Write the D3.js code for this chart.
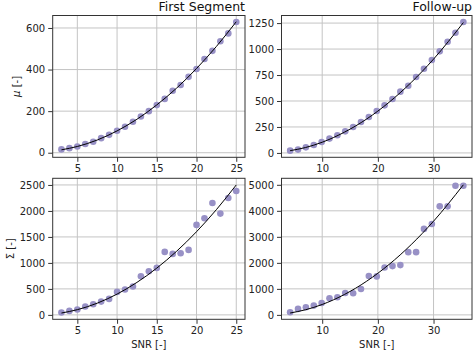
<!DOCTYPE html>
<html>
<head>
<meta charset="utf-8">
<script src="https://cdn.jsdelivr.net/npm/d3@7"></script>
<style>
  body { margin: 0; background: #fff; }
  svg, svg text { font-family: "DejaVu Sans", sans-serif; }
  .grid line { stroke: #c4c4c4; stroke-width: 1; }
  .axis text { font-size: 10px; fill: #222; }
  .axis line, .axis path { stroke: #333; }
</style>
</head>
<body>
<svg id="chart" width="474" height="351"></svg>
<script>
// SNR values (first segment / follow-up)
const snrFirst = [3, 4, 5, 6, 7, 8, 9, 10, 11, 12, 13, 14, 15, 16, 17, 18, 19, 20, 21, 22, 23, 24, 25];
const snrFollow = [4.24, 5.66, 7.07, 8.49, 9.90, 11.31, 12.73, 14.14, 15.56, 16.97, 18.38, 19.80,
  21.21, 22.63, 24.04, 25.46, 26.87, 28.28, 29.70, 31.11, 32.53, 33.94, 35.36];

// measured points
const muFirst = [16, 22, 30, 42, 53, 70, 86, 106, 125, 149, 174, 200, 229, 259, 298, 326, 365, 403, 451, 490, 536, 574, 629];
const muFollow = [22, 32, 54, 77, 106, 138, 170, 208, 250, 298, 346, 404, 458, 519, 590, 647, 731, 811, 894, 978, 1071, 1157, 1260];
const sigmaFirst = [45, 77, 103, 160, 205, 256, 308, 442, 487, 545, 744, 840, 904, 1212, 1173, 1186, 1250, 1731, 1859, 2154, 1949, 2250, 2385];
const sigmaFollow = [102, 230, 293, 357, 459, 638, 676, 842, 829, 995, 1492, 1480, 1824, 1875, 1913, 2411, 2411, 3304, 3495, 4171, 4171, 4962, 4962];

// fitted curves (sampled)
const fitXFirst = [3, 5, 7.5, 10, 12.5, 15, 17.5, 20, 22.5, 25];
const fitMuFirst = [14, 30, 61, 105, 161, 230, 311, 405, 511, 630];
const fitSigmaFirst = [36, 100, 225, 400, 625, 900, 1225, 1600, 2025, 2500];
const fitXFollow = [4.24, 7, 10, 14, 18, 22, 26, 30, 35.36];
const fitMuFollow = [22, 52, 103, 200, 327, 487, 679, 903, 1255];
const fitSigmaFollow = [72, 196, 400, 784, 1296, 1936, 2704, 3600, 5000];

// ticks
const xTicksFirst = [5, 10, 15, 20, 25];
const xTicksFollow = [10, 20, 30];
const yTicksMuFirst = [0, 200, 400, 600];
const yTicksMuFollow = [0, 250, 500, 750, 1000, 1250];
const yTicksSigmaFirst = [0, 500, 1000, 1500, 2000, 2500];
const yTicksSigmaFollow = [0, 1000, 2000, 3000, 4000, 5000];

const pointColor = "#9891c6";
const svg = d3.select("#chart");

function panel(cfg) {
  const { x0, x1, y0, y1 } = cfg.box;
  const sx = d3.scaleLinear().domain(cfg.xDomain).range([x0, x1]);
  const sy = d3.scaleLinear().domain(cfg.yDomain).range([y1, y0]);
  const g = svg.append("g");

  // grid
  const grid = g.append("g").attr("class", "grid");
  grid.selectAll(".gx").data(cfg.xTicks).enter().append("line")
    .attr("x1", d => sx(d)).attr("x2", d => sx(d)).attr("y1", y0).attr("y2", y1);
  grid.selectAll(".gy").data(cfg.yTicks).enter().append("line")
    .attr("y1", d => sy(d)).attr("y2", d => sy(d)).attr("x1", x0).attr("x2", x1);

  // points
  const pts = cfg.x.map((v, i) => ({ x: v, y: cfg.y[i] }));
  g.append("g").selectAll("circle").data(pts).enter().append("circle")
    .attr("cx", d => sx(d.x)).attr("cy", d => sy(d.y)).attr("r", 3.3)
    .style("fill", pointColor);

  // fit line
  const fit = cfg.fitX.map((v, i) => ({ x: v, y: cfg.fitY[i] }));
  g.append("path").datum(fit)
    .attr("d", d3.line().x(d => sx(d.x)).y(d => sy(d.y)).curve(d3.curveMonotoneX))
    .style("fill", "none").style("stroke", "#000").style("stroke-width", 1);

  // frame
  g.append("rect").attr("x", x0).attr("y", y0).attr("width", x1 - x0).attr("height", y1 - y0)
    .style("fill", "none").style("stroke", "#333").style("stroke-width", 1);

  // axes
  const fmt = d3.format("d");
  const ax = g.append("g").attr("class", "axis").attr("transform", `translate(0,${y1})`)
    .call(d3.axisBottom(sx).tickValues(cfg.xTicks).tickFormat(fmt).tickSize(4.5).tickPadding(3));
  ax.attr("font-family", null).attr("font-size", null);
  ax.select(".domain").remove();
  const ay = g.append("g").attr("class", "axis").attr("transform", `translate(${x0},0)`)
    .call(d3.axisLeft(sy).tickValues(cfg.yTicks).tickFormat(fmt).tickSize(4.5).tickPadding(3));
  ay.attr("font-family", null).attr("font-size", null);
  ay.select(".domain").remove();

  if (cfg.title) {
    g.append("text").attr("x", x1).attr("y", 10.5).attr("text-anchor", "end")
      .style("font-size", "12.5px").style("fill", "#111").text(cfg.title);
  }
  if (cfg.xLabel) {
    g.append("text").attr("x", (x0 + x1) / 2).attr("y", 347.5).attr("text-anchor", "middle")
      .style("font-size", "10px").style("fill", "#222").text(cfg.xLabel);
  }
  if (cfg.yLabel) {
    let minX = x0;
    ay.selectAll("text").each(function () { minX = Math.min(minX, this.getBBox().x + x0); });
    const lx = minX - 6;
    const t = g.append("text").attr("transform", `translate(${lx},${(y0 + y1) / 2}) rotate(-90)`)
      .attr("text-anchor", "middle").style("font-size", "10px").style("fill", "#222");
    t.append("tspan").style("font-style", cfg.yItalic ? "italic" : "normal").text(cfg.yLabel[0]);
    t.append("tspan").text(cfg.yLabel[1]);
  }
}

const boxTL = { x0: 52.7, x1: 245, y0: 15.5, y1: 157.3 };
const boxTR = { x0: 281.5, x1: 472, y0: 15.5, y1: 157.3 };
const boxBL = { x0: 52.7, x1: 245, y0: 178.3, y1: 319.3 };
const boxBR = { x0: 281.5, x1: 472, y0: 178.3, y1: 319.3 };

panel({ box: boxTL, xDomain: [1.9, 26.1], yDomain: [-22, 660], x: snrFirst, y: muFirst,
  fitX: fitXFirst, fitY: fitMuFirst, xTicks: xTicksFirst, yTicks: yTicksMuFirst,
  title: "First Segment", yLabel: ["\u03bc", " [-]"], yItalic: true });
panel({ box: boxTR, xDomain: [2.69, 36.91], yDomain: [-42, 1323], x: snrFollow, y: muFollow,
  fitX: fitXFollow, fitY: fitMuFollow, xTicks: xTicksFollow, yTicks: yTicksMuFollow,
  title: "Follow-up" });
panel({ box: boxBL, xDomain: [1.9, 26.1], yDomain: [-85, 2628], x: snrFirst, y: sigmaFirst,
  fitX: fitXFirst, fitY: fitSigmaFirst, xTicks: xTicksFirst, yTicks: yTicksSigmaFirst,
  xLabel: "SNR [-]", yLabel: ["\u03a3", " [-]"] });
panel({ box: boxBR, xDomain: [2.69, 36.91], yDomain: [-170, 5250], x: snrFollow, y: sigmaFollow,
  fitX: fitXFollow, fitY: fitSigmaFollow, xTicks: xTicksFollow, yTicks: yTicksSigmaFollow,
  xLabel: "SNR [-]" });
</script>
</body>
</html>
